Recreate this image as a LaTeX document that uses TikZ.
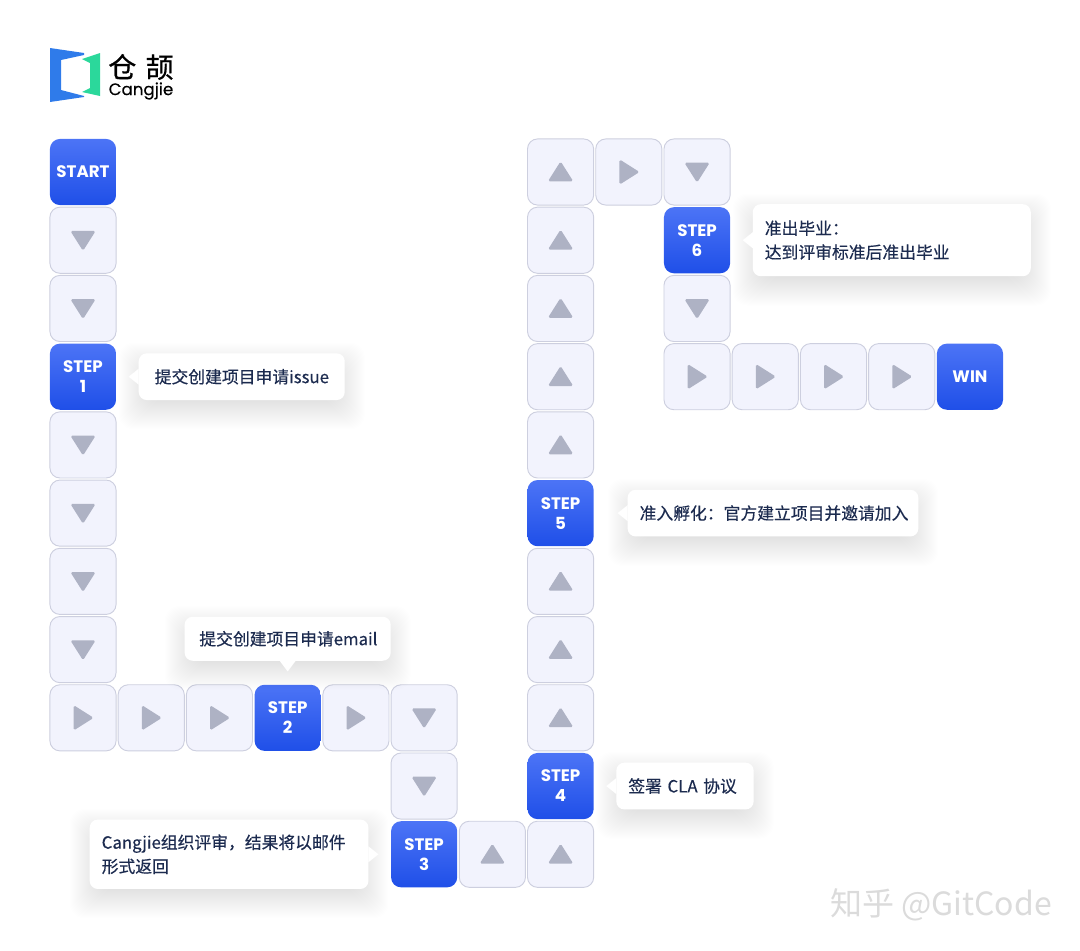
\documentclass[tikz,border=0pt]{standalone}
\usepackage{xcolor}
\usepackage{fontspec}
\usepackage{tikz}
\usetikzlibrary{positioning}

\setmainfont{Noto Sans CJK SC}[FakeBold=0.35]
\newfontfamily\keyfont{Poppins}
\newfontfamily\logofont{Poppins}[FakeBold=0.25]
\newfontfamily\logocjk{Noto Sans CJK SC}[FakeBold=0.7]
\newfontfamily\markfont{Noto Sans CJK SC}

\definecolor{cellfill}{HTML}{F2F3FD}
\definecolor{celledge}{HTML}{CDCFDF}
\definecolor{cellmark}{HTML}{AEB2C4}
\definecolor{keytop}{HTML}{4C74F6}
\definecolor{keybottom}{HTML}{1F4FE8}
\definecolor{notetext}{HTML}{1C2B4F}
\definecolor{logoblue}{HTML}{2F7BEA}
\definecolor{logogreen}{HTML}{2BD89B}

\pgfdeclarelayer{shadows}
\pgfdeclarelayer{notes}
\pgfsetlayers{main,shadows,notes}

\tikzset{
  cell/.style={rectangle, rounded corners=7.5pt, minimum width=49.6pt, minimum height=49.6pt,
    inner sep=0pt, outer sep=0pt, draw=celledge, line width=.7pt, fill=cellfill},
  cellmark/.style={fill=cellmark, rounded corners=1.3pt, shift={(path picture bounding box.center)}},
  rightcell/.style={cell, path picture={\path[cellmark] (-7pt,9.5pt) -- (8pt,0pt) -- (-7pt,-9.5pt) -- cycle;}},
  downcell/.style={cell, path picture={\path[cellmark] (-9.5pt,7pt) -- (9.5pt,7pt) -- (0pt,-8pt) -- cycle;}},
  upcell/.style={cell, path picture={\path[cellmark] (-9.5pt,-7pt) -- (9.5pt,-7pt) -- (0pt,8pt) -- cycle;}},
  keycell/.style={rectangle, rounded corners=7.5pt, minimum width=49.6pt, minimum height=49.6pt,
    inner sep=0pt, outer sep=0pt, top color=keytop, bottom color=keybottom, draw=none, text=white, align=center,
    font=\keyfont\bfseries\fontsize{12.5}{15}\selectfont},
  note/.style={rectangle, rounded corners=6pt, fill=white, text=notetext, align=left, inner sep=0pt, outer sep=0pt,
    font=\fontsize{12.6}{18}\selectfont},
  notetip/.style={fill=white, draw=none}
}

\newcommand{\softshadow}[1]{%
  \foreach \g in {1,...,30} {
    \fill[black, opacity=.004, rounded corners=11pt]
      ([xshift={(10-\g)*.75pt}, yshift={(10-\g)*.75pt-7pt}]#1.south west) rectangle
      ([xshift={(\g-10)*.75pt}, yshift={(\g-10)*.75pt-7pt}]#1.north east);
  }
}

\begin{document}
\begin{tikzpicture}[x=.75pt, y=-.75pt, node distance=1.57pt]

\useasboundingbox (0,0) rectangle (1080,950);

% logo %
\fill[logoblue] (50,48) -- (84,53) -- (84,55) -- (61,60) -- (61,90) -- (84,96) -- (84,97) -- (50,102) -- cycle;
\fill[logogreen] (82,59) -- (100,53) -- (100,96) -- (82,92) -- (90,88) -- (90,63) -- cycle;
\node[font=\logocjk\fontsize{21}{22}\selectfont, text=black] (logoname) at (141,67) {仓\,\,颉};
\node[font=\logofont\fontsize{12.5}{14}\selectfont, text=black] (logolatin) at (141,91) {Cangjie};

% nodes %
\node[keycell] (start) at (83,172) {START};
\node[downcell, below = of start] (c1) {};
\node[downcell, below = of c1] (c2) {};
\node[keycell, below = of c2] (step1) {STEP\\1};
\node[downcell, below = of step1] (c3) {};
\node[downcell, below = of c3] (c4) {};
\node[downcell, below = of c4] (c5) {};
\node[downcell, below = of c5] (c6) {};
\node[rightcell, below = of c6] (c7) {};
\node[rightcell, right = of c7] (c8) {};
\node[rightcell, right = of c8] (c9) {};
\node[keycell, right = of c9] (step2) {STEP\\2};
\node[rightcell, right = of step2] (c10) {};
\node[downcell, right = of c10] (c11) {};
\node[downcell, below = of c11] (c12) {};
\node[keycell, below = of c12] (step3) {STEP\\3};
\node[upcell, right = of step3] (c13) {};
\node[upcell, right = of c13] (c14) {};
\node[keycell, above = of c14] (step4) {STEP\\4};
\node[upcell, above = of step4] (c15) {};
\node[upcell, above = of c15] (c16) {};
\node[upcell, above = of c16] (c17) {};
\node[keycell, above = of c17] (step5) {STEP\\5};
\node[upcell, above = of step5] (c18) {};
\node[upcell, above = of c18] (c19) {};
\node[upcell, above = of c19] (c20) {};
\node[upcell, above = of c20] (c21) {};
\node[upcell, above = of c21] (c22) {};
\node[rightcell, right = of c22] (c23) {};
\node[downcell, right = of c23] (c24) {};
\node[keycell, below = of c24] (step6) {STEP\\6};
\node[downcell, below = of step6] (c25) {};
\node[rightcell, below = of c25] (c26) {};
\node[rightcell, right = of c26] (c27) {};
\node[rightcell, right = of c27] (c28) {};
\node[rightcell, right = of c28] (c29) {};
\node[keycell, right = of c29] (win) {WIN};

% notes %
\begin{pgfonlayer}{notes}
\node[note, right = 17pt of step1, minimum width=154.5pt, minimum height=35pt, text width=130.5pt] (note1) {提交创建项目申请issue};
\node[note, above = 18pt of step2, minimum width=154.5pt, minimum height=33pt, text width=132.5pt] (note2) {提交创建项目申请email};
\node[note, left = 17pt of step3, minimum width=209pt, minimum height=52pt, text width=191pt] (note3) {Cangjie组织评审，结果将以邮件\\形式返回};
\node[note, right = 17pt of step4, minimum width=103pt, minimum height=35pt, text width=85pt] (note4) {签署 CLA 协议};
\node[note, right = 25.5pt of step5, minimum width=218pt, minimum height=35pt, text width=200pt] (note5) {准入孵化：官方建立项目并邀请加入};
\node[note, right = 17pt of step6, minimum width=208.5pt, minimum height=54pt, text width=190.5pt] (note6) {准出毕业：\\达到评审标准后准出毕业};

% tips %
\fill[notetip] ([yshift=6pt]note1.west) -- ([xshift=-7.5pt]note1.west) -- ([yshift=-6pt]note1.west) -- cycle;
\fill[notetip] ([xshift=-6pt]note2.south) -- ([yshift=-8pt]note2.south) -- ([xshift=6pt]note2.south) -- cycle;
\fill[notetip] ([yshift=6pt]note3.east) -- ([xshift=7.5pt]note3.east) -- ([yshift=-6pt]note3.east) -- cycle;
\fill[notetip] ([yshift=6pt]note4.west) -- ([xshift=-7.5pt]note4.west) -- ([yshift=-6pt]note4.west) -- cycle;
\fill[notetip] ([yshift=6pt]note5.west) -- ([xshift=-7.5pt]note5.west) -- ([yshift=-6pt]note5.west) -- cycle;
\fill[notetip] ([yshift=6pt]note6.west) -- ([xshift=-7.5pt]note6.west) -- ([yshift=-6pt]note6.west) -- cycle;
\end{pgfonlayer}

% shadows %
\begin{pgfonlayer}{shadows}
\softshadow{note1}
\softshadow{note2}
\softshadow{note3}
\softshadow{note4}
\softshadow{note5}
\softshadow{note6}
\end{pgfonlayer}

% watermark %
\node[font=\markfont\fontsize{24}{26}\selectfont, text=black!14] (mark) at (941,905) {知乎 @GitCode};

\end{tikzpicture}
\end{document}
